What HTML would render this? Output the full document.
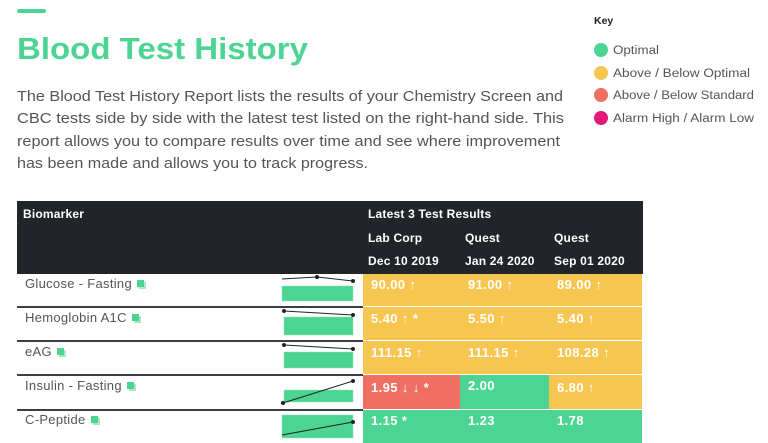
<!DOCTYPE html>
<html><head><meta charset="utf-8"><style>
*{margin:0;padding:0;box-sizing:border-box}
body{width:768px;height:443px;overflow:hidden;background:#fff;position:relative;font-family:"Liberation Sans",sans-serif;color:#333}
.a{position:absolute;white-space:nowrap}
.hd{color:#fff;font-weight:bold;font-size:12px;letter-spacing:0.2px}
.v{color:#fff;font-size:13px;font-weight:bold;letter-spacing:0.4px}
.nm{font-size:13px;color:#555;letter-spacing:0.3px}
.ic{display:inline-block;width:7px;height:7px;background:#4cd493;margin-left:5px;box-shadow:2px 2px 0 #a8e8c8;vertical-align:1px}
.sep{position:absolute;left:17px;width:346px;height:2px;background:#3a3f46}
</style></head><body>
<div class="a" style="left:17px;top:9px;width:29px;height:4px;background:#4cd493;border-radius:2px"></div>
<svg class="a" style="left:0;top:0" width="768" height="180">
<text x="17" y="59" font-family="Liberation Sans" font-weight="bold" font-size="31" fill="#4cd493" textLength="291" lengthAdjust="spacingAndGlyphs">Blood Test History</text>
<g font-family="Liberation Sans" font-size="14.5" fill="#555">
<text x="17" y="101" textLength="546" lengthAdjust="spacingAndGlyphs">The Blood Test History Report lists the results of your Chemistry Screen and</text>
<text x="17" y="123" textLength="547" lengthAdjust="spacingAndGlyphs">CBC tests side by side with the latest test listed on the right-hand side. This</text>
<text x="17" y="146" textLength="543" lengthAdjust="spacingAndGlyphs">report allows you to compare results over time and see where improvement</text>
<text x="17" y="168" textLength="351" lengthAdjust="spacingAndGlyphs">has been made and allows you to track progress.</text>
</g>
<text x="594" y="24" font-family="Liberation Sans" font-weight="bold" font-size="10.5" fill="#222">Key</text>
<g font-family="Liberation Sans" font-size="11.5" fill="#555">
<circle cx="601" cy="50" r="7" fill="#4cd493"/><text x="613" y="54" textLength="46" lengthAdjust="spacingAndGlyphs">Optimal</text>
<circle cx="601" cy="73" r="7" fill="#f6c651"/><text x="613" y="77" textLength="137" lengthAdjust="spacingAndGlyphs">Above / Below Optimal</text>
<circle cx="601" cy="95" r="7" fill="#ef6f62"/><text x="613" y="99" textLength="141" lengthAdjust="spacingAndGlyphs">Above / Below Standard</text>
<circle cx="601" cy="118" r="7" fill="#e5177b"/><text x="613" y="122" textLength="141" lengthAdjust="spacingAndGlyphs">Alarm High / Alarm Low</text>
</g>
</svg>
<div class="a" style="left:17px;top:201px;width:626px;height:73px;background:#212429"></div>
<div class="a hd" style="left:23px;top:207px">Biomarker</div>
<div class="a hd" style="left:368px;top:207px">Latest 3 Test Results</div>
<div class="a hd" style="left:368px;top:231px">Lab Corp</div>
<div class="a hd" style="left:465px;top:231px">Quest</div>
<div class="a hd" style="left:554px;top:231px">Quest</div>
<div class="a hd" style="left:368px;top:254px">Dec 10 2019</div>
<div class="a hd" style="left:465px;top:254px">Jan 24 2020</div>
<div class="a hd" style="left:554px;top:254px">Sep 01 2020</div>
<div class="a" style="left:363px;top:274px;width:279px;height:32px;background:#f6c651"></div>
<div class="a" style="left:363px;top:307px;width:279px;height:33px;background:#f6c651"></div>
<div class="a" style="left:363px;top:341px;width:279px;height:33px;background:#f6c651"></div>
<div class="a" style="left:363px;top:375px;width:97px;height:34px;background:#ef6f62"></div>
<div class="a" style="left:460px;top:375px;width:89px;height:34px;background:#4cd493"></div>
<div class="a" style="left:549px;top:375px;width:93px;height:34px;background:#f6c651"></div>
<div class="a" style="left:363px;top:410px;width:279px;height:33px;background:#4cd493"></div>
<div class="sep" style="top:306px"></div><div class="sep" style="top:340px"></div><div class="sep" style="top:374px"></div><div class="sep" style="top:409px"></div>
<div class="a nm" style="left:25px;top:276px">Glucose - Fasting<span class="ic"></span></div>
<div class="a nm" style="left:25px;top:310px">Hemoglobin A1C<span class="ic"></span></div>
<div class="a nm" style="left:25px;top:344px">eAG<span class="ic"></span></div>
<div class="a nm" style="left:25px;top:378px">Insulin - Fasting<span class="ic"></span></div>
<div class="a nm" style="left:25px;top:412px">C-Peptide<span class="ic"></span></div>
<div class="a v" style="left:371px;top:277px">90.00 ↑</div><div class="a v" style="left:468px;top:277px">91.00 ↑</div><div class="a v" style="left:557px;top:277px">89.00 ↑</div>
<div class="a v" style="left:371px;top:311px">5.40 ↑ *</div><div class="a v" style="left:468px;top:311px">5.50 ↑</div><div class="a v" style="left:557px;top:311px">5.40 ↑</div>
<div class="a v" style="left:371px;top:345px">111.15 ↑</div><div class="a v" style="left:468px;top:345px">111.15 ↑</div><div class="a v" style="left:557px;top:345px">108.28 ↑</div>
<div class="a v" style="left:371px;top:380px">1.95 ↓ ↓ *</div><div class="a v" style="left:468px;top:378px">2.00</div><div class="a v" style="left:557px;top:380px">6.80 ↑</div>
<div class="a v" style="left:371px;top:413px">1.15 *</div><div class="a v" style="left:468px;top:413px">1.23</div><div class="a v" style="left:557px;top:413px">1.78</div>
<svg class="a" style="left:0;top:0" width="768" height="443">
<g fill="#4cd493" stroke="#8fe3bb" stroke-width="0.5">
<rect x="282" y="286" width="71" height="15"/><rect x="284" y="317" width="69" height="18"/><rect x="284" y="352" width="69" height="16"/><rect x="284" y="390" width="69" height="12"/><rect x="282" y="415" width="71" height="23"/></g>
<g stroke="#222" stroke-width="1" fill="none">
<polyline points="282,279 317,277 353,281"/><polyline points="284,311 353,315"/><polyline points="284,345 353,349"/><polyline points="283,403 353,381"/><polyline points="282,435 353,422"/></g>
<g fill="#222"><circle cx="317" cy="277" r="2"/><circle cx="353" cy="281" r="2"/><circle cx="284" cy="311" r="2"/><circle cx="353" cy="315" r="2"/><circle cx="284" cy="345" r="2"/><circle cx="353" cy="349" r="2"/><circle cx="283" cy="403" r="2"/><circle cx="353" cy="381" r="2"/><circle cx="353" cy="422" r="2"/></g>
</svg>
</body></html>
